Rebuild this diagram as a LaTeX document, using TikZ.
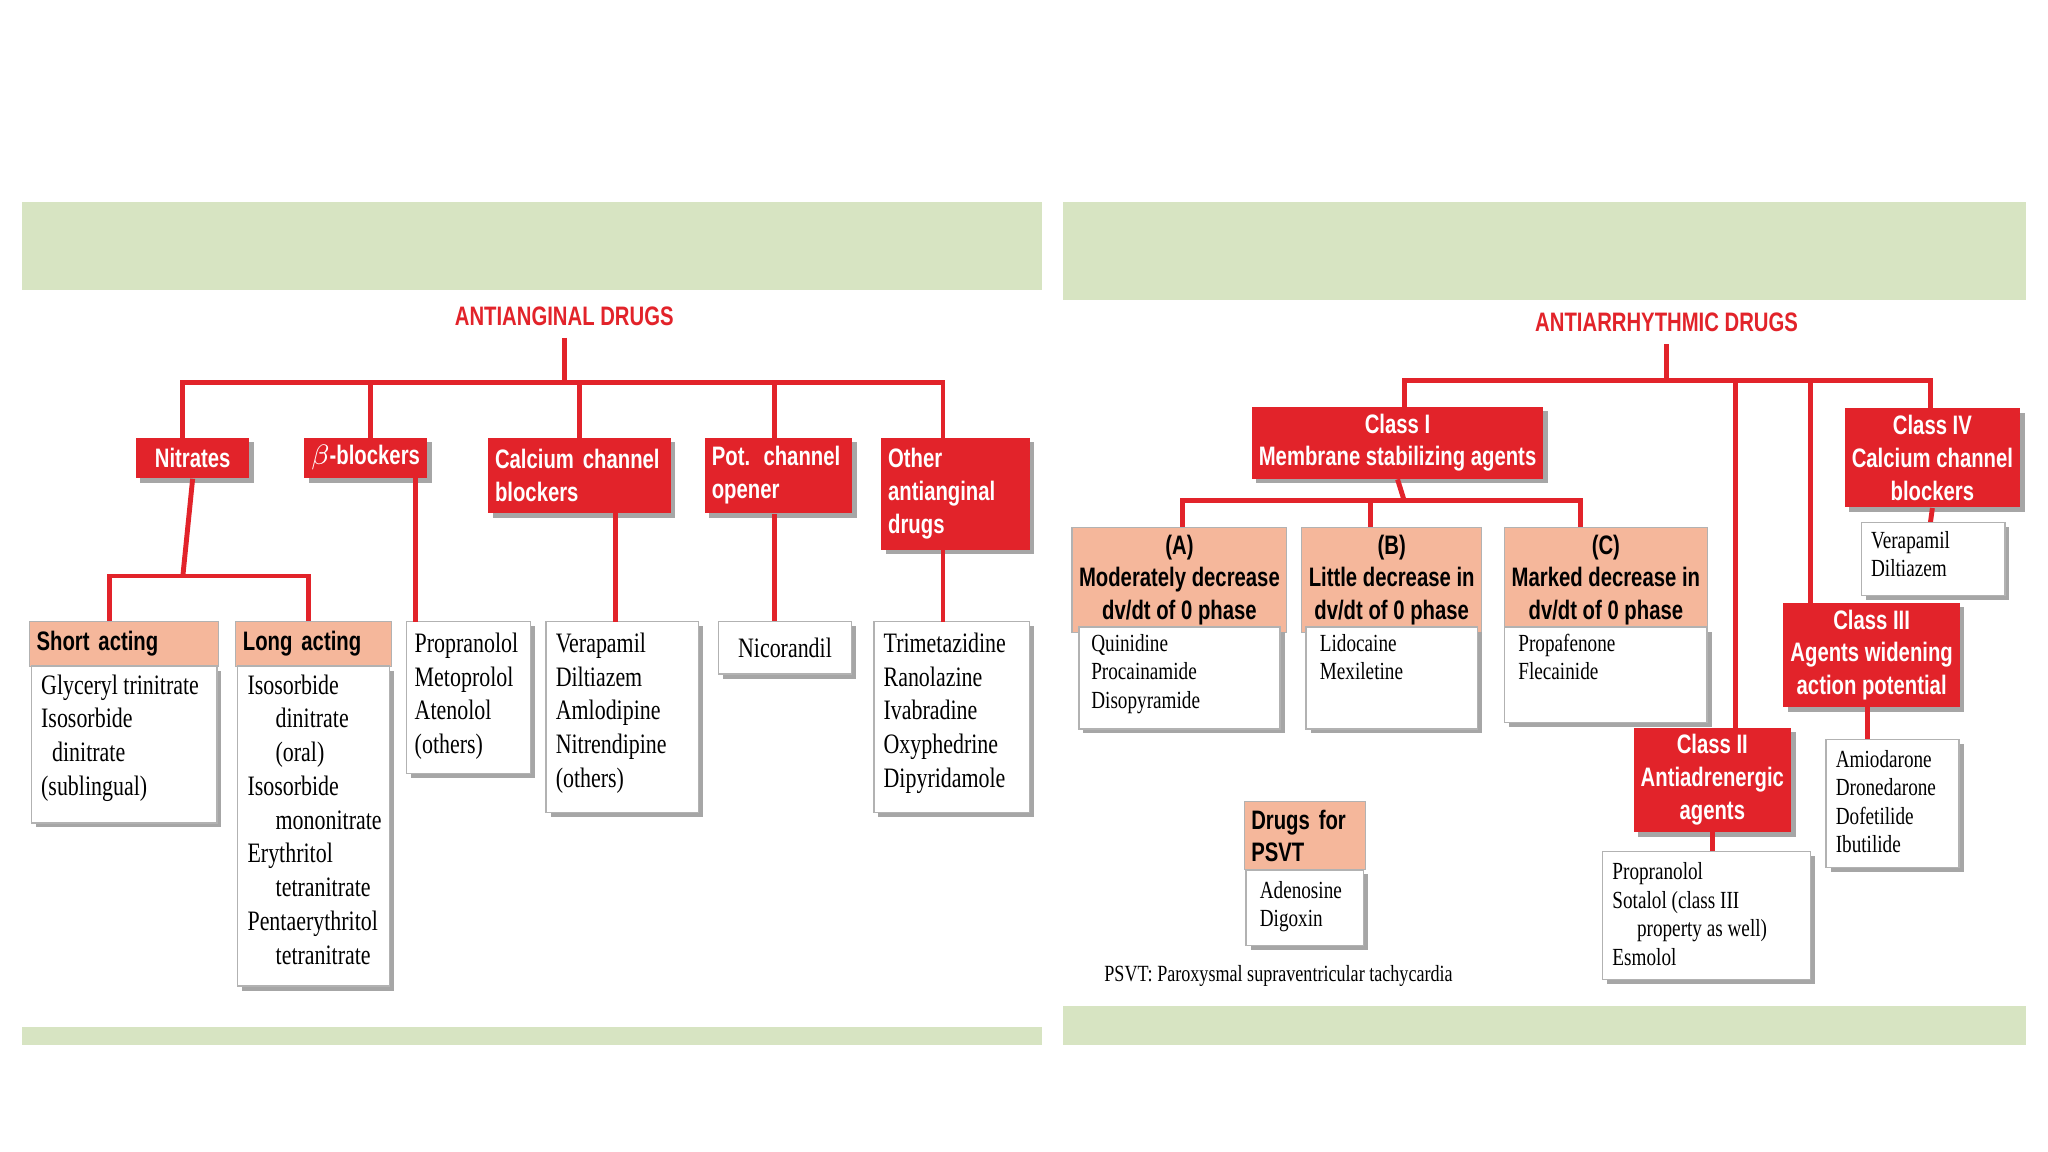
\documentclass[tikz,border=0pt]{standalone}
\usepackage{fontspec}
\setmainfont{Liberation Serif}[FakeStretch=0.78]
\newfontfamily\hd{Liberation Sans}[FakeStretch=0.76]
\usetikzlibrary{shadows}
\definecolor{rd}{HTML}{E2232A}
\definecolor{sal}{HTML}{F5B79B}
\definecolor{gr}{HTML}{D7E4C2}
\tikzset{
 x=0.01306cm,y=-0.01306cm,
 shd/.style={general shadow={fill=black!35,shadow xshift=1.3pt,shadow yshift=-1.3pt}},
 redbox/.style={fill=rd,shd,inner sep=2pt,text=white,font=\hd\bfseries\fontsize{7.6}{9.3}\selectfont},
 hdr/.style={fill=sal,draw=black!30,line width=0.3pt,inner sep=2pt,font=\hd\bfseries\fontsize{7.6}{9.3}\selectfont},
 lst/.style={fill=white,draw=black!30,line width=0.4pt,shd},
 ltxt/.style={anchor=north west,inner sep=0pt,align=left,font=\fontsize{8}{9.6}\selectfont},
 rtxt/.style={anchor=north west,inner sep=0pt,align=left,font=\fontsize{7}{8.1}\selectfont},
 con/.style={draw=rd,line width=1.4pt},
 ttl/.style={text=rd,font=\hd\bfseries\fontsize{7.6}{9}\selectfont}
}
% \bx{name}{x1}{y1}{x2}{y2}{style}{text}
\newcommand\bx[7]{\node[#6,minimum width={(#4-#2)*0.01306cm},minimum height={(#5-#3)*0.01306cm}] (#1) at ({(#2+#4)/2},{(#3+#5)/2}) {#7};}
\begin{document}
\begin{tikzpicture}
\useasboundingbox (0,0) rectangle (1568,882);
\fill[white] (0,0) rectangle (1568,882);
% green bars
\fill[gr] (17,155) rectangle (798,222);
\fill[gr] (17,786) rectangle (798,800);
\fill[gr] (814,155) rectangle (1551,230);
\fill[gr] (814,770) rectangle (1551,800);

%%%%% LEFT
\node[ttl] (t1) at (432,242) {ANTIANGINAL DRUGS};
\coordinate (j1) at (432,293);
\draw[con] (t1.south) -- (j1);
\draw[con] (140,335) |- (722,293) -- (722,335);
\foreach \xx in {284,444,593} \draw[con] (\xx,293) -- (\xx,335);
\bx{nit}{104}{335}{191}{366}{redbox}{Nitrates}
\bx{beta}{237}{335}{323}{366}{redbox}{$\beta$-blockers}
\bx{ccb}{375}{335}{512}{393}{redbox,align=left,text width={(512-375-8)*0.01306cm}}{Calcium channel\\blockers}
\bx{pot}{541}{335}{651}{393}{redbox,align=left,text width={(651-541-8)*0.01306cm}}{Pot. channel\\opener}
\bx{oth}{676}{335}{787}{421}{redbox,align=left,text width={(787-676-8)*0.01306cm}}{Other\\antianginal\\drugs}
% nitrates subtree
\draw[con] (nit.south) -- (140,441);
\draw[con] (84,476) |- (236,441) -- (236,476);
\bx{shh}{24}{476}{166}{510}{hdr,align=left,text width={(166-24-8)*0.01306cm}}{Short acting}
\bx{shl}{24}{510}{166}{630}{lst}{}
\node[ltxt] at (31,516) {Glyceryl trinitrate\\Isosorbide\\\ \ dinitrate\\(sublingual)};
\bx{loh}{182}{476}{298}{510}{hdr,align=left,text width={(298-182-8)*0.01306cm}}{Long acting}
\bx{lol}{182}{510}{298}{755}{lst}{}
\node[ltxt] at (189,516) {Isosorbide\\\quad dinitrate\\\quad (oral)\\Isosorbide\\\quad mononitrate\\Erythritol\\\quad tetranitrate\\Pentaerythritol\\\quad tetranitrate};
\bx{bl}{311}{476}{406}{592}{lst}{}
\node[ltxt] at (317,484) {Propranolol\\Metoprolol\\Atenolol\\(others)};
\draw[con] (318,366) -- (318,476);
\bx{cl}{418}{476}{535}{622}{lst}{}
\node[ltxt] at (425,484) {Verapamil\\Diltiazem\\Amlodipine\\Nitrendipine\\(others)};
\draw[con] (471,393) -- (471,476);
\bx{pl}{550}{476}{652}{516}{lst,font=\fontsize{8}{9.6}\selectfont}{Nicorandil}
\draw[con] (pot.south -| 593,0) -- (pl.north -| 593,0);
\bx{ol}{669}{476}{788}{622}{lst}{}
\node[ltxt] at (676,484) {Trimetazidine\\Ranolazine\\Ivabradine\\Oxyphedrine\\Dipyridamole};
\draw[con] (722,421) -- (722,476);

%%%%% RIGHT
\node[ttl] (t2) at (1276,247) {ANTIARRHYTHMIC DRUGS};
\draw[con] (t2.south) -- (1276,291);
\draw[con] (1075,315) |- (1478,291) -- (1478,315);
\draw[con] (1329,291) -- (1329,562);
\draw[con] (1386,291) -- (1386,466);
\bx{c1}{967}{315}{1173}{363}{redbox,align=center}{Class I\\Membrane stabilizing agents}
\draw[con] (c1.south) -- (1075,383);
\draw[con] (905,408) |- (1210,383) -- (1210,408);
\draw[con] (1049,383) -- (1049,408);
\bx{ah}{826}{408}{980}{480}{hdr,align=center}{(A)\\Moderately decrease\\dv/dt of 0 phase}
\bx{al}{826}{480}{980}{558}{lst}{}
\node[rtxt] at (835,485) {Quinidine\\Procainamide\\Disopyramide};
\bx{bh}{1000}{408}{1131}{480}{hdr,align=center}{(B)\\Little decrease in\\dv/dt of 0 phase}
\bx{bbl}{1000}{480}{1131}{558}{lst}{}
\node[rtxt] at (1010,485) {Lidocaine\\Mexiletine};
\bx{chh}{1152}{408}{1307}{480}{hdr,align=center}{(C)\\Marked decrease in\\dv/dt of 0 phase}
\bx{cll}{1152}{480}{1307}{553}{lst}{}
\node[rtxt] at (1162,485) {Propafenone\\Flecainide};
\bx{c4}{1413}{315}{1546}{386}{redbox,align=center}{Class IV\\Calcium channel\\blockers}
\draw[con] (c4.south) -- (1478,400);
\bx{c4l}{1425}{400}{1535}{456}{lst}{}
\node[rtxt] at (1432,406) {Verapamil\\Diltiazem};
\bx{c3}{1367}{466}{1499}{537}{redbox,align=center}{Class III\\Agents widening\\action potential}
\draw[con] (1430,537) -- (1430,566);
\bx{c3l}{1398}{566}{1500}{664}{lst}{}
\node[rtxt] at (1405,574) {Amiodarone\\Dronedarone\\Dofetilide\\Ibutilide};
\bx{c2}{1253}{562}{1369}{632}{redbox,align=center}{Class II\\Antiadrenergic\\agents}
\draw[con] (1311,632) -- (1311,652);
\bx{c2l}{1227}{652}{1386}{750}{lst}{}
\node[rtxt] at (1234,660) {Propranolol\\Sotalol (class III\\\quad property as well)\\Esmolol};
\bx{ph}{954}{614}{1044}{666}{hdr,align=left,text width={(1044-954-8)*0.01306cm}}{Drugs for\\PSVT}
\bx{pll}{954}{666}{1044}{724}{lst}{}
\node[rtxt] at (964,674) {Adenosine\\Digoxin};
\node[anchor=west,inner sep=0pt,font=\fontsize{6.6}{8}\selectfont] (fn) at (845,747) {PSVT: Paroxysmal supraventricular tachycardia};
\end{tikzpicture}
\end{document}
